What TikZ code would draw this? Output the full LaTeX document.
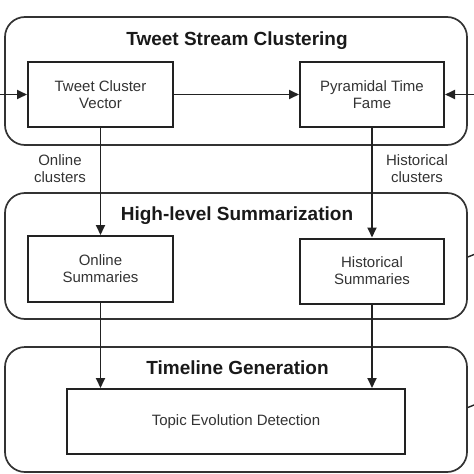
\documentclass[tikz,border=0pt]{standalone}
\usepackage{fontspec}
\setmainfont{Liberation Sans}
\usetikzlibrary{arrows.meta, positioning, calc}
\usepackage{xcolor}
\definecolor{cLine}{HTML}{222222}
\definecolor{cPanel}{HTML}{333333}
\definecolor{cText}{HTML}{333333}
\tikzset{
  panelbox/.style={
    draw=cPanel, rounded corners=20pt, line width=1.7pt,
    minimum width=462pt, inner sep=0pt,
  },
  stagebox/.style={
    draw=cLine, line width=2pt, fill=white,
    minimum width=145pt, minimum height=65pt,
    font=\fontsize{15}{17}\selectfont, text=cText,
    align=center, inner sep=2pt,
  },
  paneltitle/.style={
    anchor=base, font=\fontsize{19}{22}\selectfont\bfseries, text=black!90,
  },
  flowlabel/.style={
    font=\fontsize{15}{17}\selectfont, text=cText, align=center,
  },
  arw/.style={-{Triangle[length=10pt, width=9pt]}, line width=1.8pt, color=cLine},
}
\begin{document}
\begin{tikzpicture}[x=1pt, y=-1pt]
  \useasboundingbox (0,0) rectangle (474,474);

  % Panels
  \node[panelbox, minimum height=128pt] (pclust) at (236,81) {};
  \node[panelbox, minimum height=126pt] (psumm) at (236,256) {};
  \node[panelbox, minimum height=125pt] (ptime) at (236,409.5) {};

  \node[paneltitle] (tclust) at (237,45) {Tweet Stream Clustering};
  \node[paneltitle] (tsumm) at (237,220) {High-level Summarization};
  \node[paneltitle] (ttime) at (237.5,374) {Timeline Generation};

  % Nodes
  \node[stagebox] (tcv) at (100.5,94.5) {Tweet Cluster\\Vector};
  \node[stagebox, minimum width=144pt] (ptf) at (372,94.5) {Pyramidal Time\\Fame};
  \node[stagebox, minimum height=66pt] (onsum) at (100.5,269) {Online\\Summaries};
  \node[stagebox, minimum width=144pt] (hisum) at (372,271) {Historical\\Summaries};
  \node[stagebox, minimum width=338pt] (ted) at (236,421.5) {Topic Evolution Detection};

  \node[flowlabel] (lonline) at (60,169) {Online\\clusters};
  \node[flowlabel] (lhist) at (417,169) {Historical\\clusters};

  % Free ends at the picture's edges
  \coordinate (inleft) at (0,94.5);
  \coordinate (inright) at (474,94.5);
  \coordinate (outsumm) at (474,254.5);
  \coordinate (outtime) at (474,405);

  % Arrows
  \draw[arw] (inleft) -- (tcv.west);
  \draw[arw] (tcv.east) -- (ptf.west);
  \draw[arw] (inright) -- (ptf.east);
  \draw[arw] (tcv.south) -- (onsum.north);
  \draw[arw] (ptf.south) -- (hisum.north);
  \draw[arw] (onsum.south) -- (onsum.south |- ted.north);
  \draw[arw] (hisum.south) -- (hisum.south |- ted.north);

  % Stubs leaving on the right
  \draw[line width=1.4pt, cLine] (psumm.east |- 0,257) -- (outsumm);
  \draw[line width=1.4pt, cLine] (ptime.east |- 0,407.5) -- (outtime);

\end{tikzpicture}
\end{document}
